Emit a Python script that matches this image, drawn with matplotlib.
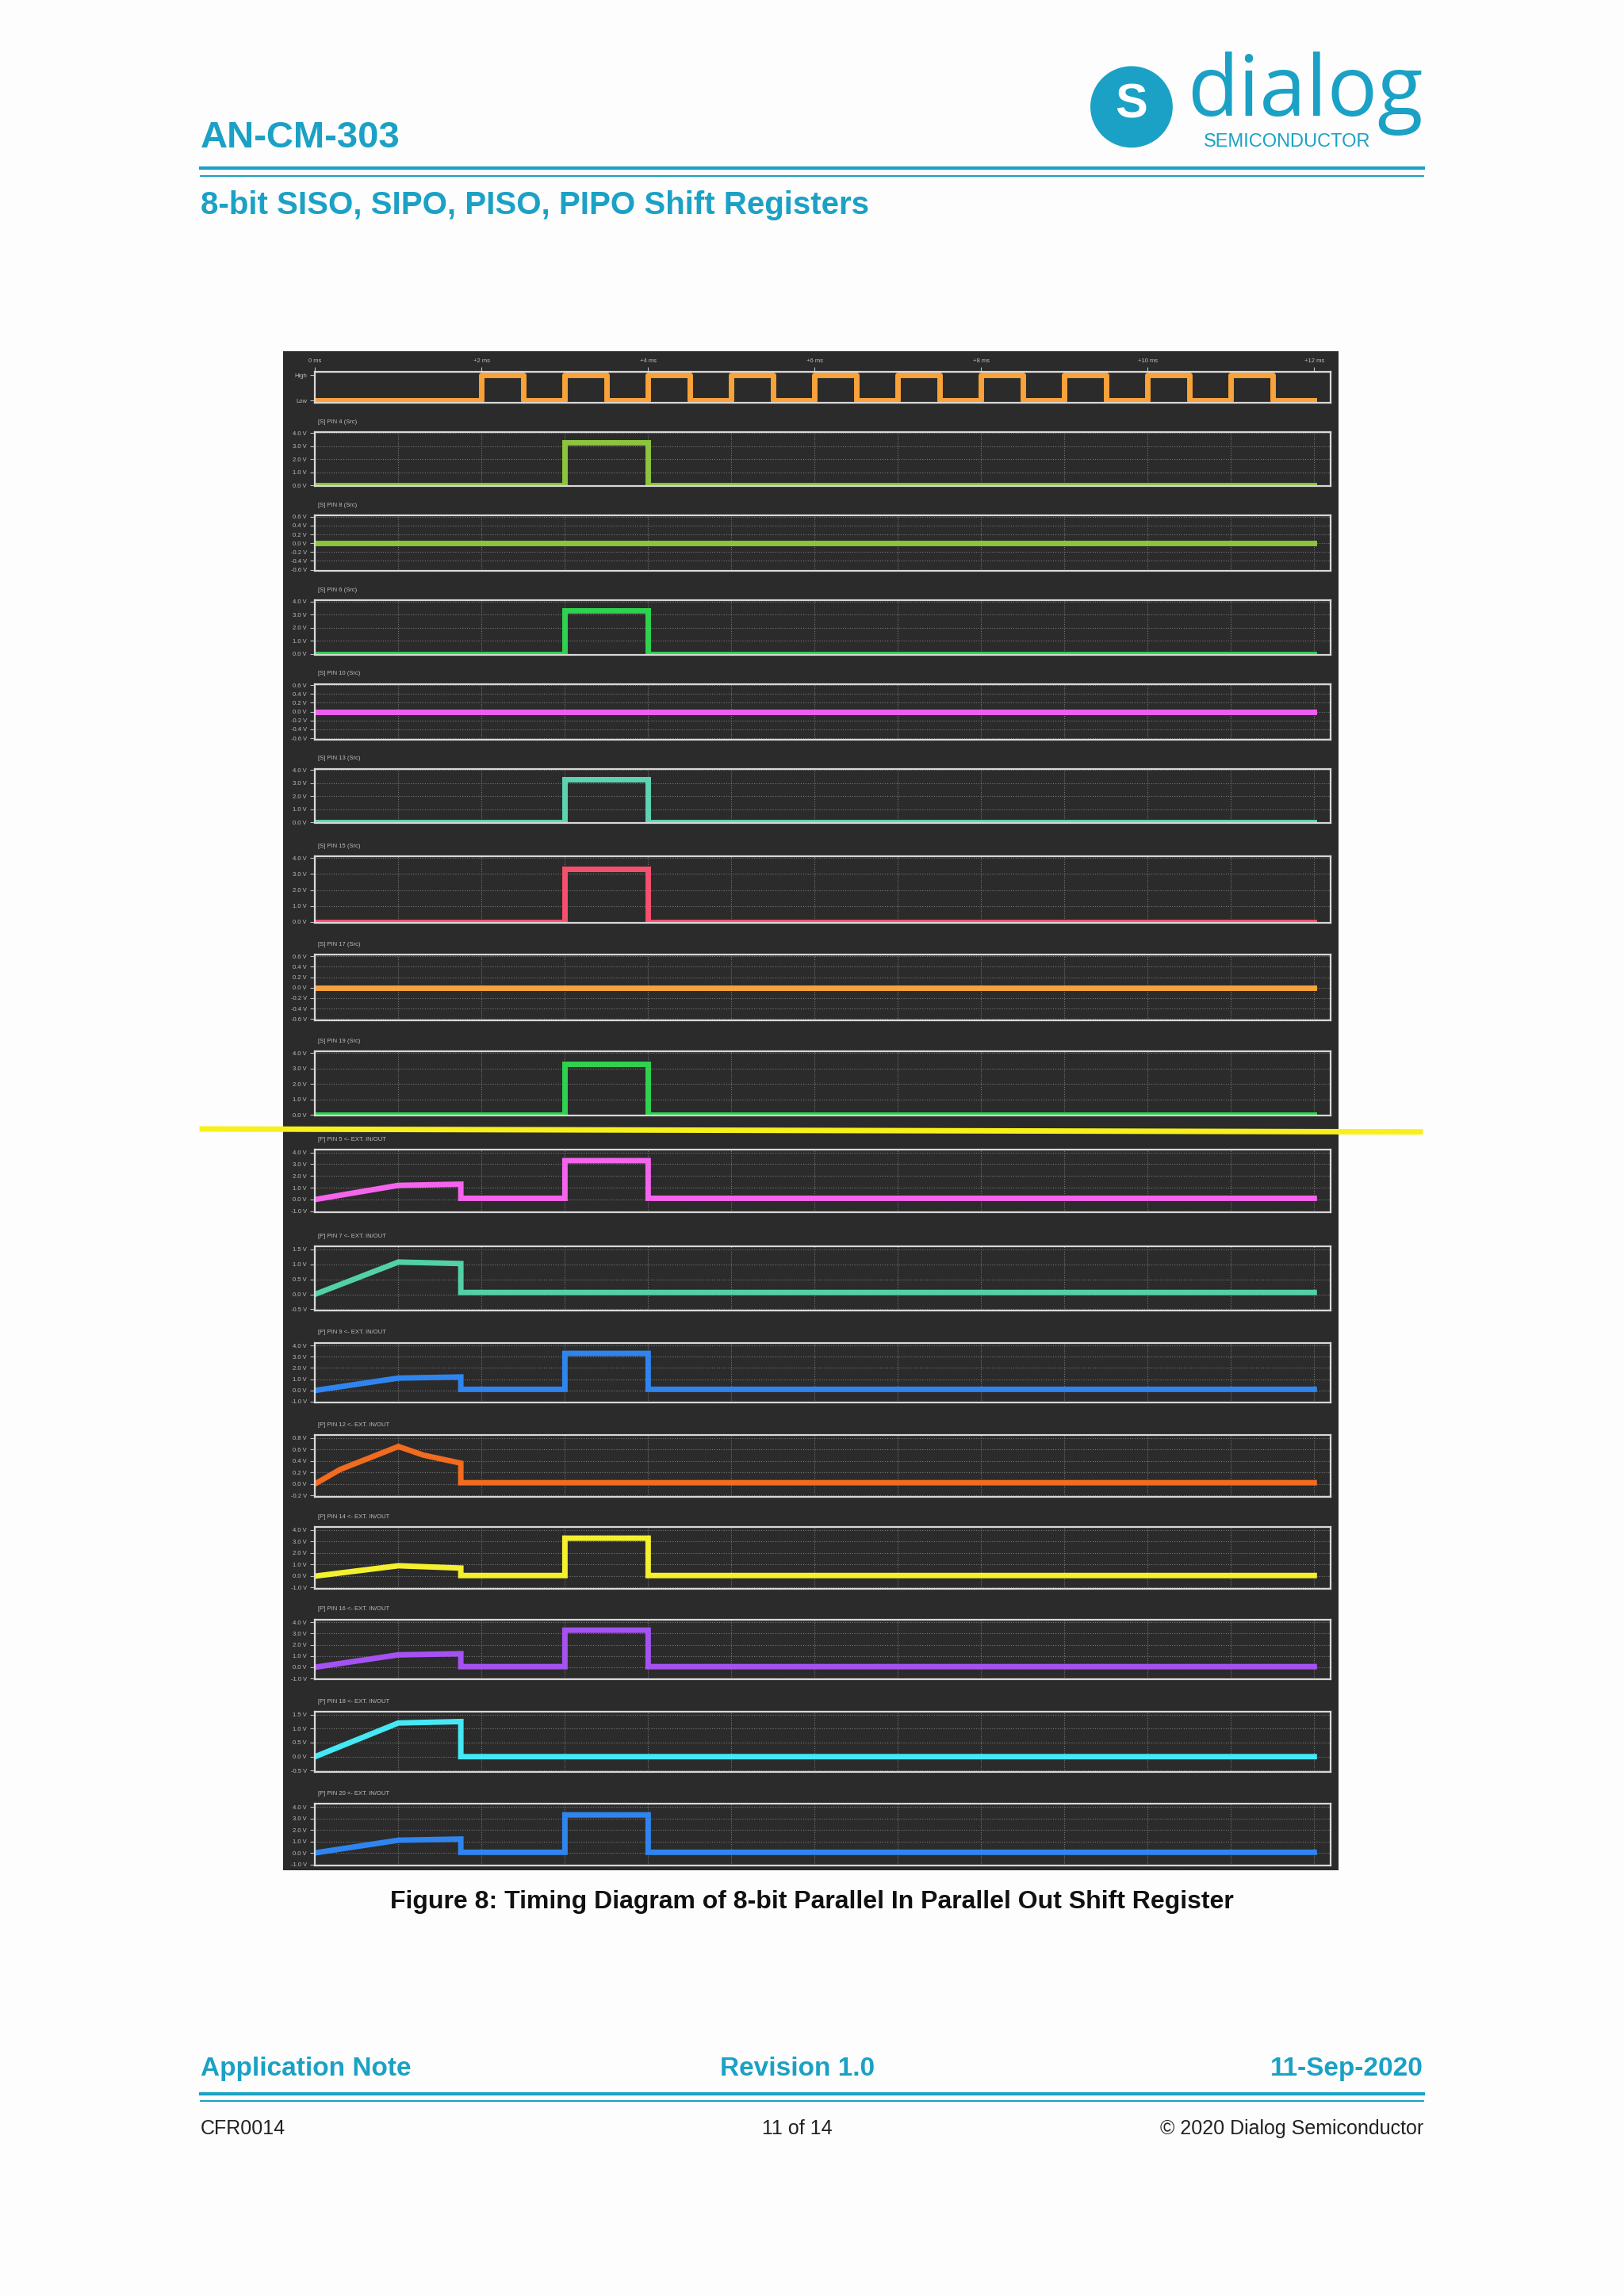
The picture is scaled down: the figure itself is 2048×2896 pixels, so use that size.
import matplotlib
matplotlib.use("Agg")
import matplotlib.pyplot as plt
import numpy as np

plt.rcParams['font.family'] = ['Liberation Sans', 'DejaVu Sans']
W, H = 1108.0, 1568.0
TEAL = "#1ba1c5"

# ---------------- data ----------------
clock_rise = [2, 3, 4, 5, 6, 7, 8, 9, 10, 11]
clock_high_width = 0.5

src_labels = ["[S] PIN 4 (Src)", "[S] PIN 8 (Src)", "[S] PIN 6 (Src)", "[S] PIN 10 (Src)",
              "[S] PIN 13 (Src)", "[S] PIN 15 (Src)", "[S] PIN 17 (Src)", "[S] PIN 19 (Src)"]
src_colors = ["#8cc43c", "#8cc43c", "#2fd24f", "#ee5ef0", "#5ed3b2", "#f5506e", "#f8a23a", "#2fd24f"]
src_pulse = [True, False, True, False, True, True, False, True]
pulse_t = [0, 3, 3, 4, 4, 12]
pulse_v = [0, 0, 3.3, 3.3, 0, 0]
flat_t = [0, 12]
flat_v = [0, 0]

par_labels = ["[P] PIN 5 <- EXT. IN/OUT", "[P] PIN 7 <- EXT. IN/OUT", "[P] PIN 9 <- EXT. IN/OUT",
              "[P] PIN 12 <- EXT. IN/OUT", "[P] PIN 14 <- EXT. IN/OUT", "[P] PIN 16 <- EXT. IN/OUT",
              "[P] PIN 18 <- EXT. IN/OUT", "[P] PIN 20 <- EXT. IN/OUT"]
par_colors = ["#f564ec", "#52d0a8", "#2f85f0", "#f26b1f", "#f4f02e", "#a552f2", "#45e8f4", "#2f85f0"]
p5_t = [0, 1.0, 1.75, 1.75, 3, 3, 4, 4, 12]
p5_v = [0, 1.2, 1.3, 0.1, 0.1, 3.3, 3.3, 0.1, 0.1]
p7_t = [0, 1.0, 1.75, 1.75, 12]
p7_v = [0.0, 1.07, 1.02, 0.06, 0.06]
p9_t = [0, 1.0, 1.75, 1.75, 3, 3, 4, 4, 12]
p9_v = [0, 1.1, 1.2, 0.1, 0.1, 3.3, 3.3, 0.1, 0.1]
p12_t = [0, 0.3, 1.0, 1.3, 1.75, 1.75, 12]
p12_v = [0, 0.25, 0.65, 0.5, 0.36, 0.02, 0.02]
p14_t = [0, 1.0, 1.75, 1.75, 3, 3, 4, 4, 12]
p14_v = [0, 0.9, 0.7, 0.05, 0.05, 3.3, 3.3, 0.05, 0.05]
p16_t = [0, 1.0, 1.75, 1.75, 3, 3, 4, 4, 12]
p16_v = [0, 1.1, 1.2, 0.05, 0.05, 3.3, 3.3, 0.05, 0.05]
p18_t = [0, 1.0, 1.75, 1.75, 12]
p18_v = [0, 1.2, 1.25, 0.0, 0.0]
p20_t = [0, 1.0, 1.75, 1.75, 3, 3, 4, 4, 12]
p20_v = [0, 1.1, 1.2, 0.05, 0.05, 3.3, 3.3, 0.05, 0.05]

time_ticks = [0, 2, 4, 6, 8, 10, 12]
time_labels = ["0 ms", "+2 ms", "+4 ms", "+6 ms", "+8 ms", "+10 ms", "+12 ms"]
v4_ticks = [0, 1, 2, 3, 4]
v4_labels = ["0.0 V", "1.0 V", "2.0 V", "3.0 V", "4.0 V"]
v06_ticks = [-0.6, -0.4, -0.2, 0, 0.2, 0.4, 0.6]
v06_labels = ["-0.6 V", "-0.4 V", "-0.2 V", "0.0 V", "0.2 V", "0.4 V", "0.6 V"]
v5_ticks = [-1, 0, 1, 2, 3, 4]
v5_labels = ["-1.0 V", "0.0 V", "1.0 V", "2.0 V", "3.0 V", "4.0 V"]
v15_ticks = [-0.5, 0, 0.5, 1.0, 1.5]
v15_labels = ["-0.5 V", "0.0 V", "0.5 V", "1.0 V", "1.5 V"]
v08_ticks = [-0.2, 0, 0.2, 0.4, 0.6, 0.8]
v08_labels = ["-0.2 V", "0.0 V", "0.2 V", "0.4 V", "0.6 V", "0.8 V"]

# ---------------- figure ----------------
fig = plt.figure(figsize=(20.48, 28.96), dpi=100)
fig.patch.set_facecolor("#fdfdfd")

def fx(x): return x / W
def fy(y): return 1 - y / H

def rect(x0, y0, x1, y1):
    return [fx(x0), fy(y1), fx(x1) - fx(x0), fy(y0) - fy(y1)]

# header
fig.text(fx(137), fy(94), "AN-CM-303", color=TEAL, fontsize=34, fontweight="bold", va="center")
fig.text(fx(137), fy(140), "8-bit SISO, SIPO, PISO, PIPO Shift Registers", color=TEAL, fontsize=29,
         fontweight="bold", va="center")
for yy, lw in [(115, 3), (120, 1.5)]:
    fig.add_artist(plt.Line2D([fx(137), fx(971)], [fy(yy), fy(yy)], color=TEAL, lw=lw))
fig.text(fx(971), fy(64), "dialog", color=TEAL, fontsize=76, ha="right",
         va="center", family="Open Sans")
fig.text(fx(935), fy(97), "SEMICONDUCTOR", color=TEAL, fontsize=17, ha="right", va="center")
fig.add_artist(matplotlib.patches.Ellipse((fx(772), fy(73)), 0.05, 0.035, color=TEAL))
fig.text(fx(772), fy(72), "S", color="white", fontsize=44, fontweight="bold", ha="center", va="center")

# dark chart region
bg = fig.add_axes(rect(193, 240, 913, 1277))
bg.set_facecolor("#2b2b2b")
bg.set_xticks([]); bg.set_yticks([])
for s in bg.spines.values():
    s.set_visible(False)

X0, X1 = 215, 908
panels = [
    ("clock", 254, 275),
    (0, 295, 332), (1, 352, 390), (2, 410, 447), (3, 467, 505),
    (4, 525, 562), (5, 585, 630), (6, 652, 697), (7, 718, 762),
    ("p0", 785, 828), ("p1", 851, 895), ("p2", 917, 958), ("p3", 980, 1022),
    ("p4", 1043, 1085), ("p5", 1106, 1147), ("p6", 1169, 1210), ("p7", 1232, 1274),
]
par_data = [(p5_t, p5_v, v5_ticks, v5_labels), (p7_t, p7_v, v15_ticks, v15_labels),
            (p9_t, p9_v, v5_ticks, v5_labels), (p12_t, p12_v, v08_ticks, v08_labels),
            (p14_t, p14_v, v5_ticks, v5_labels), (p16_t, p16_v, v5_ticks, v5_labels),
            (p18_t, p18_v, v15_ticks, v15_labels), (p20_t, p20_v, v5_ticks, v5_labels)]

TC = "#bdbdbd"
for key, y0, y1 in panels:
    ax = fig.add_axes(rect(X0, y0, X1, y1))
    ax.set_facecolor("#2b2b2b")
    ax.set_xlim(0, 12.2)
    for s in ax.spines.values():
        s.set_color("#d8d8d8"); s.set_linewidth(1.6)
    ax.set_xticks(np.arange(0, 12.2, 1.0))
    ax.tick_params(axis="x", length=0, labelbottom=False)
    ax.tick_params(axis="y", colors=TC, labelsize=5.5, length=4, width=0.8)
    ax.grid(True, color="#777777", ls=":", lw=0.8)
    if key == "clock":
        t = [0]; v = [0]
        for r in clock_rise:
            t += [r, r, r + clock_high_width, r + clock_high_width]
            v += [0, 1, 1, 0]
        t.append(12); v.append(0)
        ax.plot(t, v, color="#f8a23a", lw=5)
        ax.set_ylim(-0.08, 1.12)
        ax.set_yticks([0, 1]); ax.set_yticklabels(["Low", "High"])
        ax.grid(False)
        top = ax.secondary_xaxis("top")
        top.set_xticks(time_ticks)
        top.set_xticklabels(time_labels)
        top.tick_params(colors=TC, labelsize=5.5, length=4)
        top.spines["top"].set_color(TC)
        continue
    if isinstance(key, int):
        i = key
        label, color = src_labels[i], src_colors[i]
        if src_pulse[i]:
            t, v = pulse_t, pulse_v
            ax.set_ylim(-0.05, 4.1); ax.set_yticks(v4_ticks); ax.set_yticklabels(v4_labels)
        else:
            t, v = flat_t, flat_v
            ax.set_ylim(-0.63, 0.63); ax.set_yticks(v06_ticks); ax.set_yticklabels(v06_labels)
    else:
        i = int(key[1])
        label, color = par_labels[i], par_colors[i]
        t, v, tk, tl = par_data[i]
        ax.set_ylim(tk[0] - 0.02 * (tk[-1] - tk[0]), tk[-1] + 0.05 * (tk[-1] - tk[0]))
        ax.set_yticks(tk); ax.set_yticklabels(tl)
    ax.plot(t, v, color=color, lw=5, solid_joinstyle="miter")
    ax.set_xlim(0, 12.2)
    fig.text(fx(X0 + 2), fy(y0 - 5), label, color=TC, fontsize=5.5, va="bottom")

# yellow marker line
fig.add_artist(plt.Line2D([fx(138), fx(969)], [fy(771), fy(773)], color="#f7f01a", lw=5))

# caption
fig.text(0.5, fy(1299), "Figure 8: Timing Diagram of 8-bit Parallel In Parallel Out Shift Register",
         ha="center", va="center", fontsize=23, fontweight="bold", color="#111111")

# footer
fig.text(fx(137), fy(1413), "Application Note", color=TEAL, fontsize=24, fontweight="bold", va="center")
fig.text(fx(544), fy(1413), "Revision 1.0", color=TEAL, fontsize=24, fontweight="bold", va="center", ha="center")
fig.text(fx(971), fy(1413), "11-Sep-2020", color=TEAL, fontsize=24, fontweight="bold", va="center", ha="right")
for yy, lw in [(1430, 3), (1435, 1.5)]:
    fig.add_artist(plt.Line2D([fx(137), fx(971)], [fy(yy), fy(yy)], color=TEAL, lw=lw))
fig.text(fx(137), fy(1454), "CFR0014", fontsize=18, va="center", color="#222222")
fig.text(fx(544), fy(1454), "11 of 14", fontsize=18, va="center", ha="center", color="#222222")
fig.text(fx(971), fy(1454), "© 2020 Dialog Semiconductor", fontsize=18, va="center", ha="right", color="#222222")

fig.savefig("out.png", dpi=100, facecolor=fig.get_facecolor())
